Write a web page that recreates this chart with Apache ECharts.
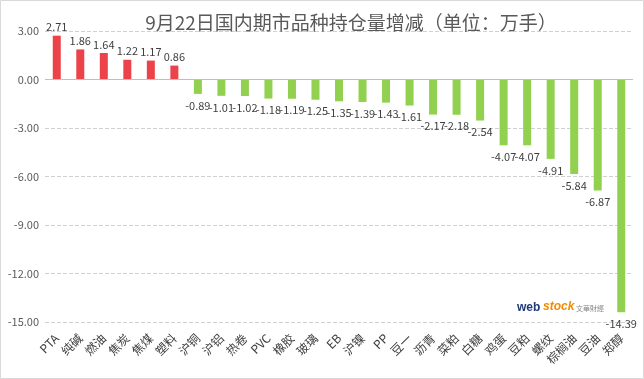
<!DOCTYPE html>
<html><head><meta charset="utf-8">
<script src="https://cdn.jsdelivr.net/npm/echarts@6/dist/echarts.min.js"></script>
<style>html,body{margin:0;padding:0;background:#fff}#c{width:644px;height:379px}</style>
</head><body><div id="c"></div>
<script>
const categories = ['PTA','纯碱','燃油','焦炭','焦煤','塑料','沪铜','沪铝','热卷','PVC','橡胶','玻璃','EB','沪镍','PP','豆一','沥青','菜粕','白糖','鸡蛋','豆粕','螺纹','棕榈油','豆油','郑醇'];
const values = [2.71,1.86,1.64,1.22,1.17,0.86,-0.89,-1.01,-1.02,-1.18,-1.19,-1.25,-1.35,-1.39,-1.43,-1.61,-2.17,-2.18,-2.54,-4.07,-4.07,-4.91,-5.84,-6.87,-14.39];
const titleText = '9月22日国内期市品种持仓量增减（单位：万手）';

const chart = echarts.init(document.getElementById('c'));
const FONT = '"Microsoft YaHei","Noto Sans CJK SC",sans-serif';
chart.setOption({
  animation:false,
  title:{text:titleText,left:346,textAlign:'center',top:8,textStyle:{fontSize:19,fontWeight:'normal',color:'#595959',fontFamily:FONT}},
  grid:{left:45,right:11,top:31,bottom:57},
  xAxis:{type:'category',data:categories,
    axisLine:{onZero:false,show:false},axisTick:{show:false},
    axisLabel:{rotate:45,interval:0,fontSize:12,color:'#404040',fontFamily:FONT,margin:14}},
  yAxis:{type:'value',min:-15,max:3,interval:3,
    axisLine:{show:false},axisTick:{show:false},
    axisLabel:{formatter:v=>v.toFixed(2),fontSize:11,color:'#595959',fontFamily:FONT,margin:6},
    splitLine:{lineStyle:{type:'dashed',color:'#d0d0d0'}}},
  series:[{type:'bar',barWidth:8,
    data:values.map(v=>({value:v,itemStyle:{color:v>=0?'#ec434b':'#92d050'},
      label:{position:v>=0?'top':'bottom',distance:v>=0?3:6}})),
    label:{show:true,fontSize:11,color:'#404040',fontFamily:FONT,formatter:p=>p.value.toFixed(2)},
    markLine:{silent:true,symbol:'none',label:{show:false},lineStyle:{color:'#bfbfbf',type:'solid',width:1},data:[{yAxis:0}]}
  }],
  graphic:[
    {type:'rect',shape:{x:0.5,y:0.5,width:643,height:378},style:{fill:'none',stroke:'#d9d9d9'}},
    {type:'text',left:517,top:302,style:{text:'web',font:'bold 12px sans-serif',fill:'#1f3a78'}},
    {type:'text',left:543,top:301,style:{text:'stock',font:'italic bold 12px sans-serif',fill:'#f08c00'}},
    {type:'text',left:576,top:305,style:{text:'文華財經',font:'7px '+FONT,fill:'#888'}}
  ]
});
</script></body></html>
